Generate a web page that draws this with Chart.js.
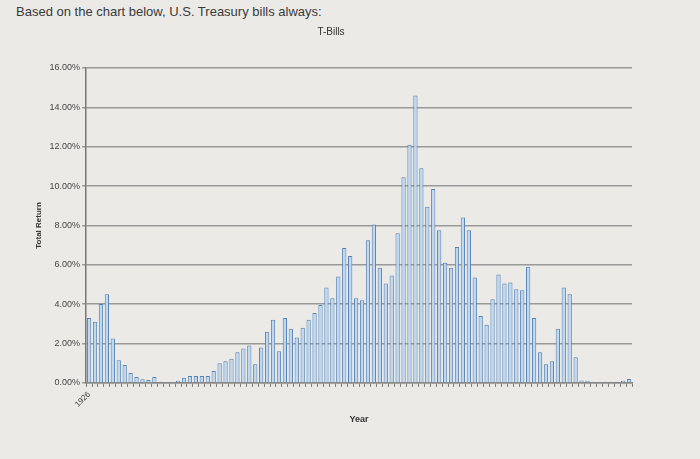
<!DOCTYPE html>
<html>
<head>
<meta charset="utf-8">
<script src="https://cdn.jsdelivr.net/npm/chart.js@4.4.1/dist/chart.umd.min.js"></script>
<style>
  html, body { margin: 0; padding: 0; background: #ebeae7; }
  #wrap { position: relative; width: 700px; height: 459px; overflow: hidden; }
  #question {
    position: absolute; left: 16px; top: 4px;
    font: 13px "Liberation Sans", Arial, sans-serif; color: #3a3a3a;
  }
  canvas { position: absolute; left: 0; top: 0; }
</style>
</head>
<body>
<div id="wrap">
  <div id="question">Based on the chart below, U.S. Treasury bills always:</div>
  <canvas id="chart" width="700" height="459"></canvas>
</div>
<script>
// years 1926..2017
const years = [];
for (let y = 1926; y <= 2017; y++) years.push(String(y));

// annual T-bill total return (%)
const tbillReturns = [
  3.3, 3.1, 4.0, 4.5, 2.25, 1.15, 0.9, 0.5, 0.3, 0.18,      // 1926-1935
  0.15, 0.3, 0.05, 0.03, 0.03, 0.1, 0.26, 0.35, 0.35, 0.35, // 1936-1945
  0.35, 0.6, 1.0, 1.1, 1.23, 1.55, 1.75, 1.9, 0.95, 1.8,    // 1946-1955
  2.6, 3.2, 1.6, 3.3, 2.75, 2.3, 2.8, 3.2, 3.55, 3.95,      // 1956-1965
  4.85, 4.3, 5.4, 6.85, 6.45, 4.3, 4.2, 7.25, 8.05, 5.85,   // 1966-1975
  5.05, 5.45, 7.6, 10.45, 12.1, 14.6, 10.9, 8.95, 9.85, 7.75, // 1976-1985
  6.1, 5.85, 6.9, 8.4, 7.75, 5.35, 3.4, 2.95, 4.25, 5.5,    // 1986-1995
  5.05, 5.1, 4.75, 4.7, 5.9, 3.3, 1.55, 0.95, 1.1, 2.75,    // 1996-2005
  4.85, 4.5, 1.3, 0.12, 0.1, 0.05, 0.06, 0.05, 0.05, 0.05,  // 2006-2015
  0.1, 0.2                                                  // 2016-2017
];

const yTicks = [0, 2, 4, 6, 8, 10, 12, 14, 16];

const font = "'Liberation Sans', Arial, sans-serif";

new Chart(document.getElementById('chart'), {
  type: 'bar',
  data: {
    labels: years,
    datasets: [{
      label: 'T-Bills',
      data: tbillReturns,
      backgroundColor: '#bfd8ef',
      borderColor: '#5682b6',
      borderWidth: 1,
      borderSkipped: 'bottom',
      barPercentage: 0.72,
      categoryPercentage: 1.0
    }]
  },
  options: {
    responsive: false,
    animation: false,
    layout: { padding: { top: 26, left: 30, right: 68, bottom: 30 } },
    plugins: {
      legend: { display: false },
      tooltip: { enabled: false },
      title: {
        display: true,
        text: 'T-Bills',
        color: '#333',
        font: { family: font, size: 10, weight: 'normal' },
        padding: { top: 0, bottom: 30 }
      }
    },
    scales: {
      x: {
        grid: { display: true, drawOnChartArea: false, color: '#777', tickLength: 4 },
        border: { color: '#888', width: 1.5 },
        ticks: {
          autoSkip: false,
          maxRotation: 45,
          minRotation: 45,
          color: '#444',
          font: { family: font, size: 8 },
          callback: (v, i) => i === 0 ? years[0] : ''
        },
        title: {
          display: true,
          text: 'Year',
          color: '#333',
          font: { family: font, size: 9, weight: 'bold' },
          padding: { top: 2 }
        }
      },
      y: {
        min: 0,
        max: 16,
        afterBuildTicks: axis => { axis.ticks = yTicks.map(v => ({ value: v })); },
        grid: { color: '#999', lineWidth: 1.5, tickLength: 4 },
        border: { color: '#777', width: 1.5 },
        ticks: {
          color: '#444',
          font: { family: font, size: 9 },
          padding: 2,
          callback: v => v.toFixed(2) + '%'
        },
        title: {
          display: true,
          text: 'Total Return',
          color: '#333',
          font: { family: font, size: 8, weight: 'bold' },
          padding: { top: 4, bottom: 4 }
        }
      }
    }
  }
});
</script>
</body>
</html>
